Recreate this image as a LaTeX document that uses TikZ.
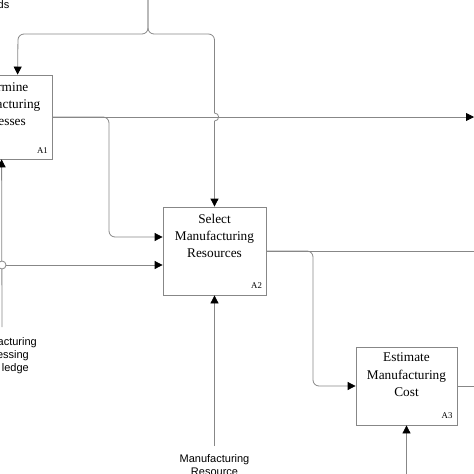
\documentclass[tikz,border=0pt]{standalone}
\usepackage{fontspec}
\setmainfont{Liberation Serif}
\setsansfont{Liberation Sans}
\usetikzlibrary{arrows.meta,calc}
\definecolor{linegray}{RGB}{135,135,135}
\tikzset{
  conn/.style={draw=linegray, line width=0.8pt, rounded corners=6pt},
  arr/.style={conn, -{Triangle[length=8pt,width=8pt,color=black]}},
  actbox/.style={draw=linegray, line width=0.8pt, rectangle, fill=white, inner sep=0pt},
  boxtext/.style={font=\fontsize{13.3}{17}\selectfont, inner sep=0pt},
  boxlabel/.style={font=\fontsize{8.8}{10}\selectfont, inner sep=0pt, anchor=base east},
  sanstext/.style={font=\sffamily\fontsize{11}{13}\selectfont, inner sep=0pt},
}
\begin{document}
\begin{tikzpicture}[x=1pt,y=-1pt]
\useasboundingbox (0,0) rectangle (474,474);
% activity boxes
\node[actbox, minimum width=104pt, minimum height=84pt] (A1) at (0,117) {};
\node[actbox, minimum width=103pt, minimum height=88pt] (A2) at (214.5,251) {};
\node[actbox, minimum width=101pt, minimum height=78pt] (A3) at (406.5,386) {};
% free ends
\coordinate (top) at (148,0);
\coordinate (o1) at (474,117);
\coordinate (o2) at (474,251);
\coordinate (o3) at (474,386);
\coordinate (mk) at (2,327);
\coordinate (in2) at (6,265);
\coordinate (m2) at (214.5,446);
\coordinate (m3) at (406.5,474);
% control from top, split
\draw[arr] (top) -- (148,34) -- (18,34) -- ($(A1.north west)+(70,0)$);
\draw[conn] (top) -- (148,34) -- (214.5,34) -- (214.5,113);
\draw[draw=linegray, line width=0.8pt] (214.5,113) .. controls (220,113) and (220,121) .. (214.5,121);
\draw[arr] (214.5,121) -- (A2.north);
% A1 output
\draw[arr] (A1.east) -- (o1);
\draw[arr] (A1.east) -- (109,117) -- (109,237) -- ($(A2.west)+(0,-14)$);
% mechanism to A1 with hop
\draw[arr] (mk) -- ($(A1.south west)+(54,0)$);
\draw[draw=linegray, line width=0.8pt, fill=white] (2,265) circle (4pt);
\draw[arr] (in2) -- ($(A2.west)+(0,14)$);
% A2 output
\draw[conn] (A2.east) -- (o2);
\draw[arr] (A2.east) -- (313,251) -- (313,386) -- (A3.west);
% A3 output
\draw[conn] (A3.east) -- (o3);
% mechanisms
\draw[arr] (m2) -- (A2.south);
\draw[arr] (m3) -- (A3.south);
% box texts
\node[boxtext, anchor=base east] (t1a) at (28.5,91.5) {rmine};
\node[boxtext, anchor=base east] (t1b) at (40.5,108.5) {acturing};
\node[boxtext, anchor=base east] (t1c) at (26,125.5) {esses};
\node[boxtext, anchor=base] (t2a) at (214.5,223.3) {Select};
\node[boxtext, anchor=base] (t2b) at (214.5,240.5) {Manufacturing};
\node[boxtext, anchor=base] (t2c) at (214.5,257.7) {Resources};
\node[boxtext, anchor=base] (t3a) at (406.5,361.7) {Estimate};
\node[boxtext, anchor=base] (t3b) at (406.5,379) {Manufacturing};
\node[boxtext, anchor=base] (t3c) at (406.5,396) {Cost};
\node[boxlabel] (l1) at ($(A1.south east)+(-4.3,-6)$) {A1};
\node[boxlabel] (l2) at ($(A2.south east)+(-4.3,-7)$) {A2};
\node[boxlabel] (l3) at ($(A3.south east)+(-4.8,-7)$) {A3};
% arrow labels
\node[sanstext, anchor=base east] (s0) at (9.5,8) {ds};
\node[sanstext, anchor=base east] (s1) at (37,345) {acturing};
\node[sanstext, anchor=base east] (s2) at (29,358) {essing};
\node[sanstext, anchor=base east] (s3) at (29,371) {ledge};
\node[sanstext, anchor=base] (s4) at (214.5,462.3) {Manufacturing};
\node[sanstext, anchor=base] (s5) at (214.5,475.5) {Resource};
\end{tikzpicture}
\end{document}
